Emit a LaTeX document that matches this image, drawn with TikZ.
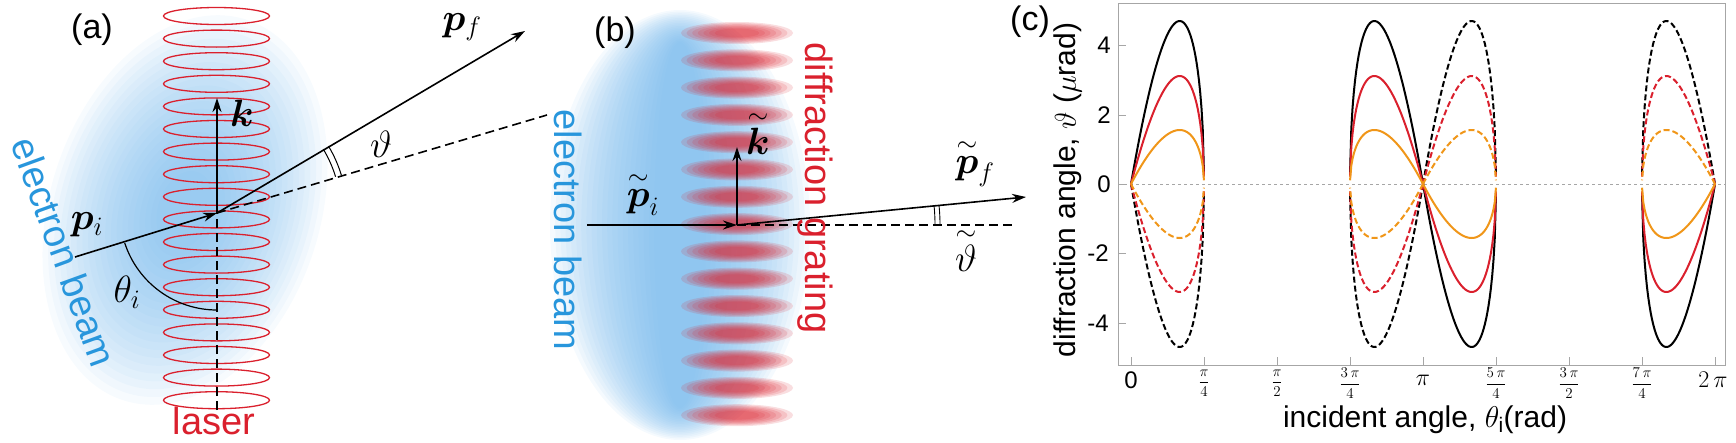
\documentclass[tikz,border=0pt]{standalone}
\usepackage{fix-cm}
\usepackage{amsmath}
\usepackage{bm}
\usepackage{fontspec}
\setmainfont{Liberation Sans}
\usetikzlibrary{arrows.meta}
\definecolor{lred}{RGB}{218,32,45}
\definecolor{lblue}{RGB}{40,150,220}
\definecolor{bfill}{RGB}{110,180,235}
\definecolor{lorange}{RGB}{240,150,25}
\tikzset{
  vec/.style={line width=1.6pt,-{Stealth[length=14pt,width=9pt]}},
  dray/.style={line width=1.6pt,dash pattern=on 9pt off 5pt},
  big/.style={font=\fontsize{38}{42}\selectfont},
  mlab/.style={font=\fontsize{38}{42}\selectfont},
  plab/.style={font=\fontsize{34}{38}\selectfont},
  axlab/.style={font=\fontsize{30}{34}\selectfont},
  tick/.style={font=\fontsize{24}{26}\selectfont},
  ftick/.style={font=\fontsize{15}{17}\selectfont},
  crv/.style={line width=2pt},
  dcrv/.style={line width=2pt,dash pattern=on 6pt off 3pt},
}
\newcommand{\tl}[1]{\overset{\sim}{#1}}
\begin{document}
\begin{tikzpicture}[x=1pt,y=-1pt]
\useasboundingbox (0,0) rectangle (1736,442);
% ---------- panel (a) ----------
\foreach \s in {1.0,0.96,...,0.2}{
  \fill[bfill,opacity=0.055,rotate around={-18:(185,210)}] (185,210) ellipse[x radius={135*\s},y radius={200*\s}];
}
\foreach \i in {0,...,17}{
  \draw[lred,line width=1.3pt] (216.5,{16+22.6*\i}) ellipse[x radius=53,y radius=8.5];
}
\coordinate (O) at (217,213);
\coordinate (Pi) at (75,257);
\coordinate (K) at (217,98);
\coordinate (Pf) at (525,31);
\coordinate (D) at (547,115);
\coordinate (L) at (217,410);
\draw[dray] (L) -- (O);
\draw[vec] (O) -- (K);
\draw[vec] (Pi) -- (O);
\draw[vec] (O) -- (Pf);
\draw[dray] (O) -- (D);
\draw[line width=1.2pt] (O) ++(162:97) arc[start angle=162,end angle=90,radius=97];
\draw[line width=1pt] (O) ++(-31:124) arc[start angle=-31,end angle=-17,radius=124];
\draw[line width=1pt] (O) ++(-31:130) arc[start angle=-31,end angle=-17,radius=130];
\node[plab] (la) at (92,30) {(a)};
\node[mlab] (lk) at (242,113) {$\bm{k}$};
\node[mlab] (lpi) at (87,225) {$\bm{p}_i$};
\node[mlab] (lth) at (127,292) {$\theta_i$};
\node[mlab] (lv) at (381,144) {$\vartheta$};
\node[mlab] (lpf) at (462,27) {$\bm{p}_f$};
\node[big,lblue,rotate=-70] (eb1) at (64,252) {electron beam};
\node[big,lred] (las) at (214,421) {laser};
% ---------- panel (b) ----------
\foreach \s in {1.0,0.96,...,0.2}{
  \fill[bfill,opacity=0.065] (680,225) ellipse[x radius={130*\s},y radius={175+40*\s}];
}
\foreach \j in {0,...,14}{
  \foreach \s in {1.0,0.9,...,0.3}{
    \fill[lred,opacity=0.15] (737,{33+27.3*\j}) ellipse[x radius={56*\s},y radius={11*\s}];
  }
}
\coordinate (O2) at (737,225);
\coordinate (Pi2) at (587,225);
\coordinate (K2) at (737,147);
\coordinate (Pf2) at (1026,197);
\coordinate (D2) at (1012,225);
\draw[dray] (O2) -- (D2);
\draw[vec] (Pi2) -- (O2);
\draw[vec] (O2) -- (K2);
\draw[vec] (O2) -- (Pf2);
\draw[line width=0.9pt] (O2) ++(-5.6:198) arc[start angle=-5.6,end angle=0,radius=198];
\draw[line width=0.9pt] (O2) ++(-5.6:203) arc[start angle=-5.6,end angle=0,radius=203];
\node[plab] (lb) at (615,33) {(b)};
\node[mlab] (lk2) at (758,133) {$\tl{\bm{k}}$};
\node[mlab] (lpi2) at (643,194) {$\tl{\bm{p}}_i$};
\node[mlab] (lpf2) at (975,163) {$\tl{\bm{p}}_f$};
\node[mlab] (lv2) at (966,250) {$\tl{\vartheta}$};
\node[big,lblue,rotate=-90] (eb2) at (568,230) {electron beam};
\node[big,lred,rotate=-90] (dg) at (815,188) {diffraction grating};
% ---------- panel (c) ----------
\draw[gray!70,line width=1pt] (1118,3) rectangle (1725,365);
\draw[gray!70,line width=1pt,dashed] (1118,184) -- (1725,184);
\foreach \k in {0,...,8}{
  \draw[gray!70,line width=1pt] ({1131+73*\k},365) -- ({1131+73*\k},357);
}
\node[tick] (t0) at (1131,380) {0};
\node[ftick] (t1) at (1204,383) {$\displaystyle\frac{\pi}{4}$};
\node[ftick] (t2) at (1277,383) {$\displaystyle\frac{\pi}{2}$};
\node[ftick] (t3) at (1350,383) {$\displaystyle\frac{3\,\pi}{4}$};
\node[tick] (t4) at (1423,380) {$\pi$};
\node[ftick] (t5) at (1496,383) {$\displaystyle\frac{5\,\pi}{4}$};
\node[ftick] (t6) at (1569,383) {$\displaystyle\frac{3\,\pi}{2}$};
\node[ftick] (t7) at (1642,383) {$\displaystyle\frac{7\,\pi}{4}$};
\node[tick] (t8) at (1713,380) {$2\,\pi$};
\foreach \yy in {45,115,184,253,323}{
  \draw[gray!70,line width=1pt] (1118,\yy) -- (1126,\yy);
}
\node[tick] (y4) at (1104,45) {4};
\node[tick] (y2) at (1104,115) {2};
\node[tick] (y0) at (1104,184) {0};
\node[tick] (ym2) at (1098,253) {-2};
\node[tick] (ym4) at (1098,323) {-4};
\node[axlab,rotate=90] (yl) at (1068,190) {diffraction angle, $\vartheta$ ($\mu$rad)};
\node[axlab] (xl) at (1425,420) {incident angle, $\theta_{\mathrm{i}}$(rad)};
\node[plab] (lc) at (1030,22) {(c)};
\foreach \A/\col in {163/black,108/lred,54/lorange}{
  \draw[crv,\col] plot[domain=0:1,samples=60] ({1131+73*\x},{184-\A*\x*sqrt(1-\x)/0.3849});
  \draw[dcrv,\col] plot[domain=0:1,samples=60] ({1131+73*\x},{184+\A*\x*sqrt(1-\x)/0.3849});
  \draw[crv,\col] plot[domain=0:1,samples=60] ({1423-73*\x},{184-\A*\x*sqrt(1-\x)/0.3849});
  \draw[dcrv,\col] plot[domain=0:1,samples=60] ({1423-73*\x},{184+\A*\x*sqrt(1-\x)/0.3849});
  \draw[dcrv,\col] plot[domain=0:1,samples=60] ({1423+73*\x},{184-\A*\x*sqrt(1-\x)/0.3849});
  \draw[crv,\col] plot[domain=0:1,samples=60] ({1423+73*\x},{184+\A*\x*sqrt(1-\x)/0.3849});
  \draw[dcrv,\col] plot[domain=0:1,samples=60] ({1715-73*\x},{184-\A*\x*sqrt(1-\x)/0.3849});
  \draw[crv,\col] plot[domain=0:1,samples=60] ({1715-73*\x},{184+\A*\x*sqrt(1-\x)/0.3849});
}
\end{tikzpicture}
\end{document}
